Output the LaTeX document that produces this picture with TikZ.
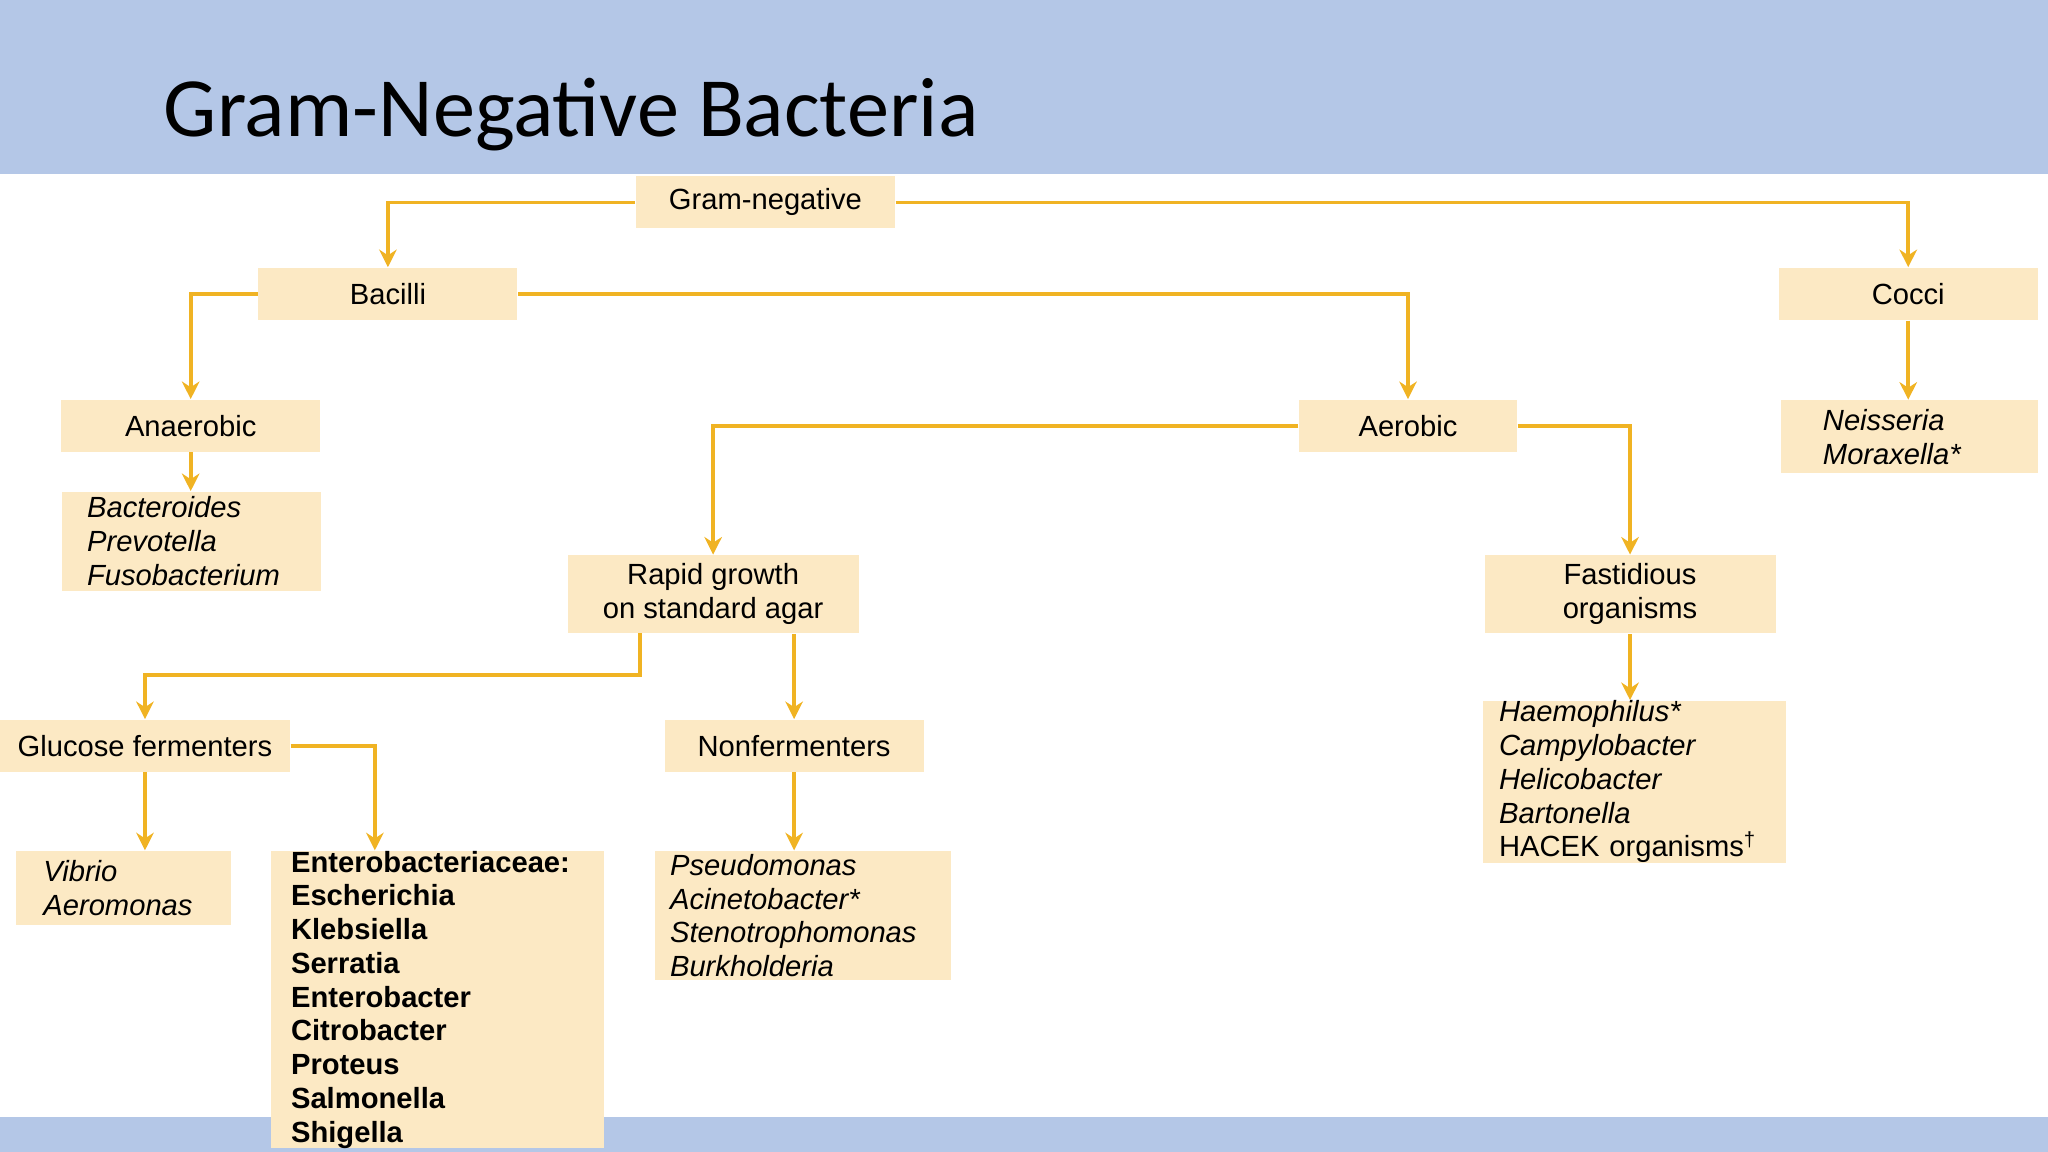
\documentclass[tikz,border=0pt]{standalone}
\usepackage{fontspec}
\setmainfont{Liberation Sans}
\newfontfamily\titlefont{Carlito}
\usetikzlibrary{arrows.meta}
\definecolor{band}{HTML}{B4C7E7}
\definecolor{boxfill}{HTML}{FCE9C4}
\definecolor{link}{HTML}{F0B323}
\begin{document}
\begin{tikzpicture}[x=0.01306cm,y=-0.01306cm,
  box/.style={fill=boxfill,inner sep=0pt,minimum height=0.52cm,minimum width=2.59cm,
    font=\fontsize{8.3}{9.6}\selectfont,align=center},
  list/.style={fill=boxfill,anchor=north west,inner ysep=0pt,align=left,
    font=\fontsize{8.3}{9.6}\selectfont\itshape},
  arr/.style={draw=link,line width=1.1pt,-{Stealth[length=5pt,width=5pt]}}]
\useasboundingbox (0,0) rectangle (1568,882);
% bands
\fill[band] (0,0) rectangle (1568,133);
\fill[band] (0,855) rectangle (1568,882);
\node[anchor=west,font=\titlefont\fontsize{24}{28}\selectfont] (title) at (116,88) {Gram-Negative Bacteria};
% nodes
\node[box] (gn) at (586,155) {Gram-negative};
\node[box] (bac) at (297,225) {Bacilli};
\node[box] (coc) at (1461,225) {Cocci};
\node[box] (ana) at (146,326) {Anaerobic};
\node[box,minimum width=2.18cm] (aer) at (1078,326) {Aerobic};
\node[box,minimum width=2.91cm,minimum height=0.78cm] (rap) at (546,455) {Rapid growth\\on standard agar};
\node[box,minimum width=2.91cm,minimum height=0.78cm] (fas) at (1248,455) {Fastidious\\organisms};
\node[box,minimum width=2.90cm] (glu) at (111,571) {Glucose fermenters};
\node[box] (non) at (608,571) {Nonfermenters};
\node[list,inner xsep=0.25cm,text width=2.09cm,minimum height=0.99cm] (bcd) at (47,376)
  {Bacteroides\\Prevotella\\Fusobacterium};
\node[list,inner xsep=0.42cm,text width=1.73cm,minimum height=0.73cm] (nei) at (1363,306)
  {Neisseria\\Moraxella*};
\node[list,inner xsep=0.16cm,text width=2.71cm,minimum height=1.62cm] (hae) at (1135,536)
  {Haemophilus*\\Campylobacter\\Helicobacter\\Bartonella\\\upshape HACEK organisms\textsuperscript{†}};
\node[list,inner xsep=0.27cm,text width=1.61cm,minimum height=0.74cm] (vib) at (12,651)
  {Vibrio\\Aeromonas};
\node[list,inner xsep=0.2cm,text width=2.93cm,minimum height=2.63cm] (ent) at (207,651)
  {\upshape\bfseries Enterobacteriaceae:\\Escherichia\\Klebsiella\\Serratia\\Enterobacter\\Citrobacter\\Proteus\\Salmonella\\Shigella};
\node[list,inner xsep=0.15cm,text width=2.66cm,minimum height=1.29cm] (pse) at (501,651)
  {Pseudomonas\\Acinetobacter*\\Stenotrophomonas\\Burkholderia};
% connector ends
\coordinate (r1) at (490,485);
\coordinate (e1) at (287,651);
% connectors
\draw[arr] (gn.west) -| (bac.north);
\draw[arr] (gn.east) -| (coc.north);
\draw[arr] (bac.west) -| (ana.north);
\draw[arr] (bac.east) -| (aer.north);
\draw[arr] (ana.south) -- (ana.south |- bcd.north);
\draw[arr] (coc.south) -- (coc.south |- nei.north);
\draw[arr] (aer.west) -| (rap.north);
\draw[arr] (aer.east) -| (fas.north);
\draw[arr] (r1) -- ++(0,32) -| (glu.north);
\draw[arr] (rap.south -| non.north) -- (non.north);
\draw[arr] (fas.south) -- (fas.south |- hae.north);
\draw[arr] (glu.south) -- (glu.south |- vib.north);
\draw[arr] (glu.east) -| (e1);
\draw[arr] (non.south) -- (non.south |- pse.north);
\end{tikzpicture}
\end{document}
